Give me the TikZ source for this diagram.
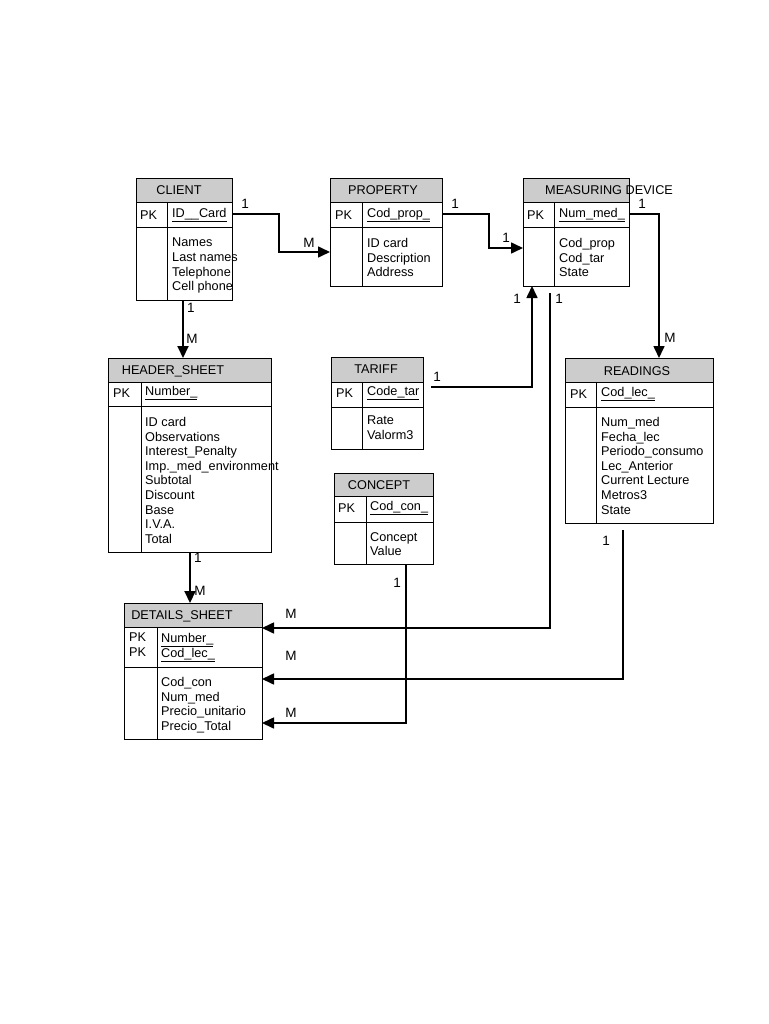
\documentclass[tikz,border=0pt]{standalone}
\usepackage{fontspec}
\setmainfont{Liberation Sans}
\usetikzlibrary{arrows.meta,fit}
\tikzset{
  tbl/.style={draw, line width=1pt, inner sep=0pt},
  sep/.style={line width=1pt},
  hdr/.style={fill=black!20},
  txt/.style={inner sep=0pt, font=\fontsize{12.7}{14.6}\selectfont, align=left},
  ttl/.style={inner sep=0pt, anchor=base, font=\fontsize{12.7}{14.6}\selectfont},
  card/.style={inner sep=0pt, font=\fontsize{13.5}{14}\selectfont},
  conn/.style={line width=1.6pt, -{Triangle[length=12pt,width=11pt]}},
}
% #1 name, #2 left, #3 top, #4 right, #5 bottom, #6 header bottom, #7 row bottom, #8 divider x
\newcommand\ertable[8]{%
  \fill[hdr] (#2,#3) rectangle (#4,#6);
  \node[tbl, fit={(#2,#3) (#4,#5)}] (#1) {};
  \draw[sep] (#2,#6) -- (#4,#6);
  \draw[sep] (#2,#7) -- (#4,#7);
  \draw[sep] (#8,#6) -- (#8,#5);
}
\begin{document}
\begin{tikzpicture}[x=1pt,y=-1pt]
\useasboundingbox (0,0) rectangle (768,1024);

% CLIENT
\ertable{client}{136}{179}{232}{300}{203}{228}{167}
\node[ttl] (clientT) at (179,195) {CLIENT};
\node[txt, anchor=west] (clientPK) at (140,215) {PK};
\node[txt, anchor=west] (clientK) at (172,215) {\underline{ID\_\_Card}};
\node[txt, anchor=north west] (clientA) at (172,238) {Names\\Last names\\Telephone\\Cell phone};

% PROPERTY
\ertable{property}{330}{179}{442}{286}{203}{228}{362}
\node[ttl] (propT) at (383,195) {PROPERTY};
\node[txt, anchor=west] (propPK) at (335,215) {PK};
\node[txt, anchor=west] (propK) at (367,215) {\underline{Cod\_prop\_}};
\node[txt, anchor=north west] (propA) at (367,238) {ID card\\Description\\Address};

% MEASURING DEVICE
\ertable{meas}{523}{179}{629}{286}{203}{228}{554}
\node[ttl, anchor=base west] (measT) at (545,195) {MEASURING DEVICE};
\node[txt, anchor=west] (measPK) at (527,215) {PK};
\node[txt, anchor=west] (measK) at (559,215) {\underline{Num\_med\_}};
\node[txt, anchor=north west] (measA) at (559,238) {Cod\_prop\\Cod\_tar\\State};

% HEADER_SHEET
\ertable{header}{108}{358}{271}{552}{382}{406}{141}
\node[ttl] (headT) at (173,374) {HEADER\_SHEET};
\node[txt, anchor=west] (headPK) at (113,393) {PK};
\node[txt, anchor=west] (headK) at (145,393) {\underline{Number\_}};
\node[txt, anchor=north west] (headA) at (145,417) {ID card\\Observations\\Interest\_Penalty\\Imp.\_med\_environment\\Subtotal\\Discount\\Base\\I.V.A.\\Total};

% TARIFF
\ertable{tariff}{331}{357}{423}{449}{382}{407}{362}
\node[ttl] (tarT) at (376,373) {TARIFF};
\node[txt, anchor=west] (tarPK) at (336,393) {PK};
\node[txt, anchor=west] (tarK) at (367,393) {\underline{Code\_tar}};
\node[txt, anchor=north west] (tarA) at (367,416) {Rate\\Valorm3};

% CONCEPT
\ertable{concept}{334}{473}{433}{564}{496}{522}{366}
\node[ttl] (conT) at (379,489) {CONCEPT};
\node[txt, anchor=west] (conPK) at (338,508) {PK};
\node[txt, anchor=west] (conK) at (370,508) {\underline{Cod\_con\_}};
\node[txt, anchor=north west] (conA) at (370,532) {Concept\\Value};

% READINGS
\ertable{readings}{565}{358}{713}{523}{382}{407}{596}
\node[ttl] (readT) at (637,375) {READINGS};
\node[txt, anchor=west] (readPK) at (570,394) {PK};
\node[txt, anchor=west] (readK) at (601,394) {\underline{Cod\_lec\_}};
\node[txt, anchor=north west] (readA) at (601,417) {Num\_med\\Fecha\_lec\\Periodo\_consumo\\Lec\_Anterior\\Current Lecture\\Metros3\\State};

% DETAILS_SHEET
\ertable{details}{124}{603}{262}{739}{627}{667}{157}
\node[ttl] (detT) at (182,619) {DETAILS\_SHEET};
\node[txt, anchor=north west] (detPK) at (129,633) {PK\\PK};
\node[txt, anchor=north west] (detK) at (161,633) {\underline{Number\_}\\\underline{Cod\_lec\_}};
\node[txt, anchor=north west] (detA) at (161,677) {Cod\_con\\Num\_med\\Precio\_unitario\\Precio\_Total};

% connection points
\coordinate (clientOut) at (232,214);
\coordinate (propIn) at (330,252);
\coordinate (propOut) at (442,214);
\coordinate (measIn) at (523,248);
\coordinate (measOut) at (629,214);
\coordinate (readIn) at (659,358);
\coordinate (tarOut) at (431,387);
\coordinate (measBotIn) at (532,286);
\coordinate (measBotOut) at (550,293);
\coordinate (detIn1) at (262,628);
\coordinate (readOut) at (623,530);
\coordinate (detIn2) at (262,679);
\coordinate (conOut) at (406,564);
\coordinate (detIn3) at (262,723);
\coordinate (clientBot) at (183,300);
\coordinate (headIn) at (183,358);
\coordinate (headBot) at (190,552);
\coordinate (detTop) at (190,603);

% connectors
\draw[conn] (clientOut) -- ++(47,0) |- (propIn);
\draw[conn] (propOut) -- ++(47,0) |- (measIn);
\draw[conn] (measOut) -| (readIn);
\draw[conn] (tarOut) -| (measBotIn);
\draw[conn] (measBotOut) |- (detIn1);
\draw[conn] (readOut) |- (detIn2);
\draw[conn] (conOut) |- (detIn3);
\draw[conn, line width=2pt] (clientBot) -- (headIn);
\draw[conn, line width=2pt] (headBot) -- (detTop);

% cardinalities
\node[card] (c1) at (245,204) {1};
\node[card] (c2) at (309,243) {M};
\node[card] (c3) at (455,204) {1};
\node[card] (c4) at (506,238) {1};
\node[card] (c5) at (642,204) {1};
\node[card] (c6) at (670,338) {M};
\node[card] (c7) at (517,299) {1};
\node[card] (c8) at (559,299) {1};
\node[card] (c9) at (437,377) {1};
\node[card] (c10) at (191,308) {1};
\node[card] (c11) at (192,339) {M};
\node[card] (c12) at (198,558) {1};
\node[card] (c13) at (200,591) {M};
\node[card] (c14) at (397,583) {1};
\node[card] (c15) at (606,541) {1};
\node[card] (c16) at (291,614) {M};
\node[card] (c17) at (291,656) {M};
\node[card] (c18) at (291,713) {M};
\end{tikzpicture}
\end{document}
